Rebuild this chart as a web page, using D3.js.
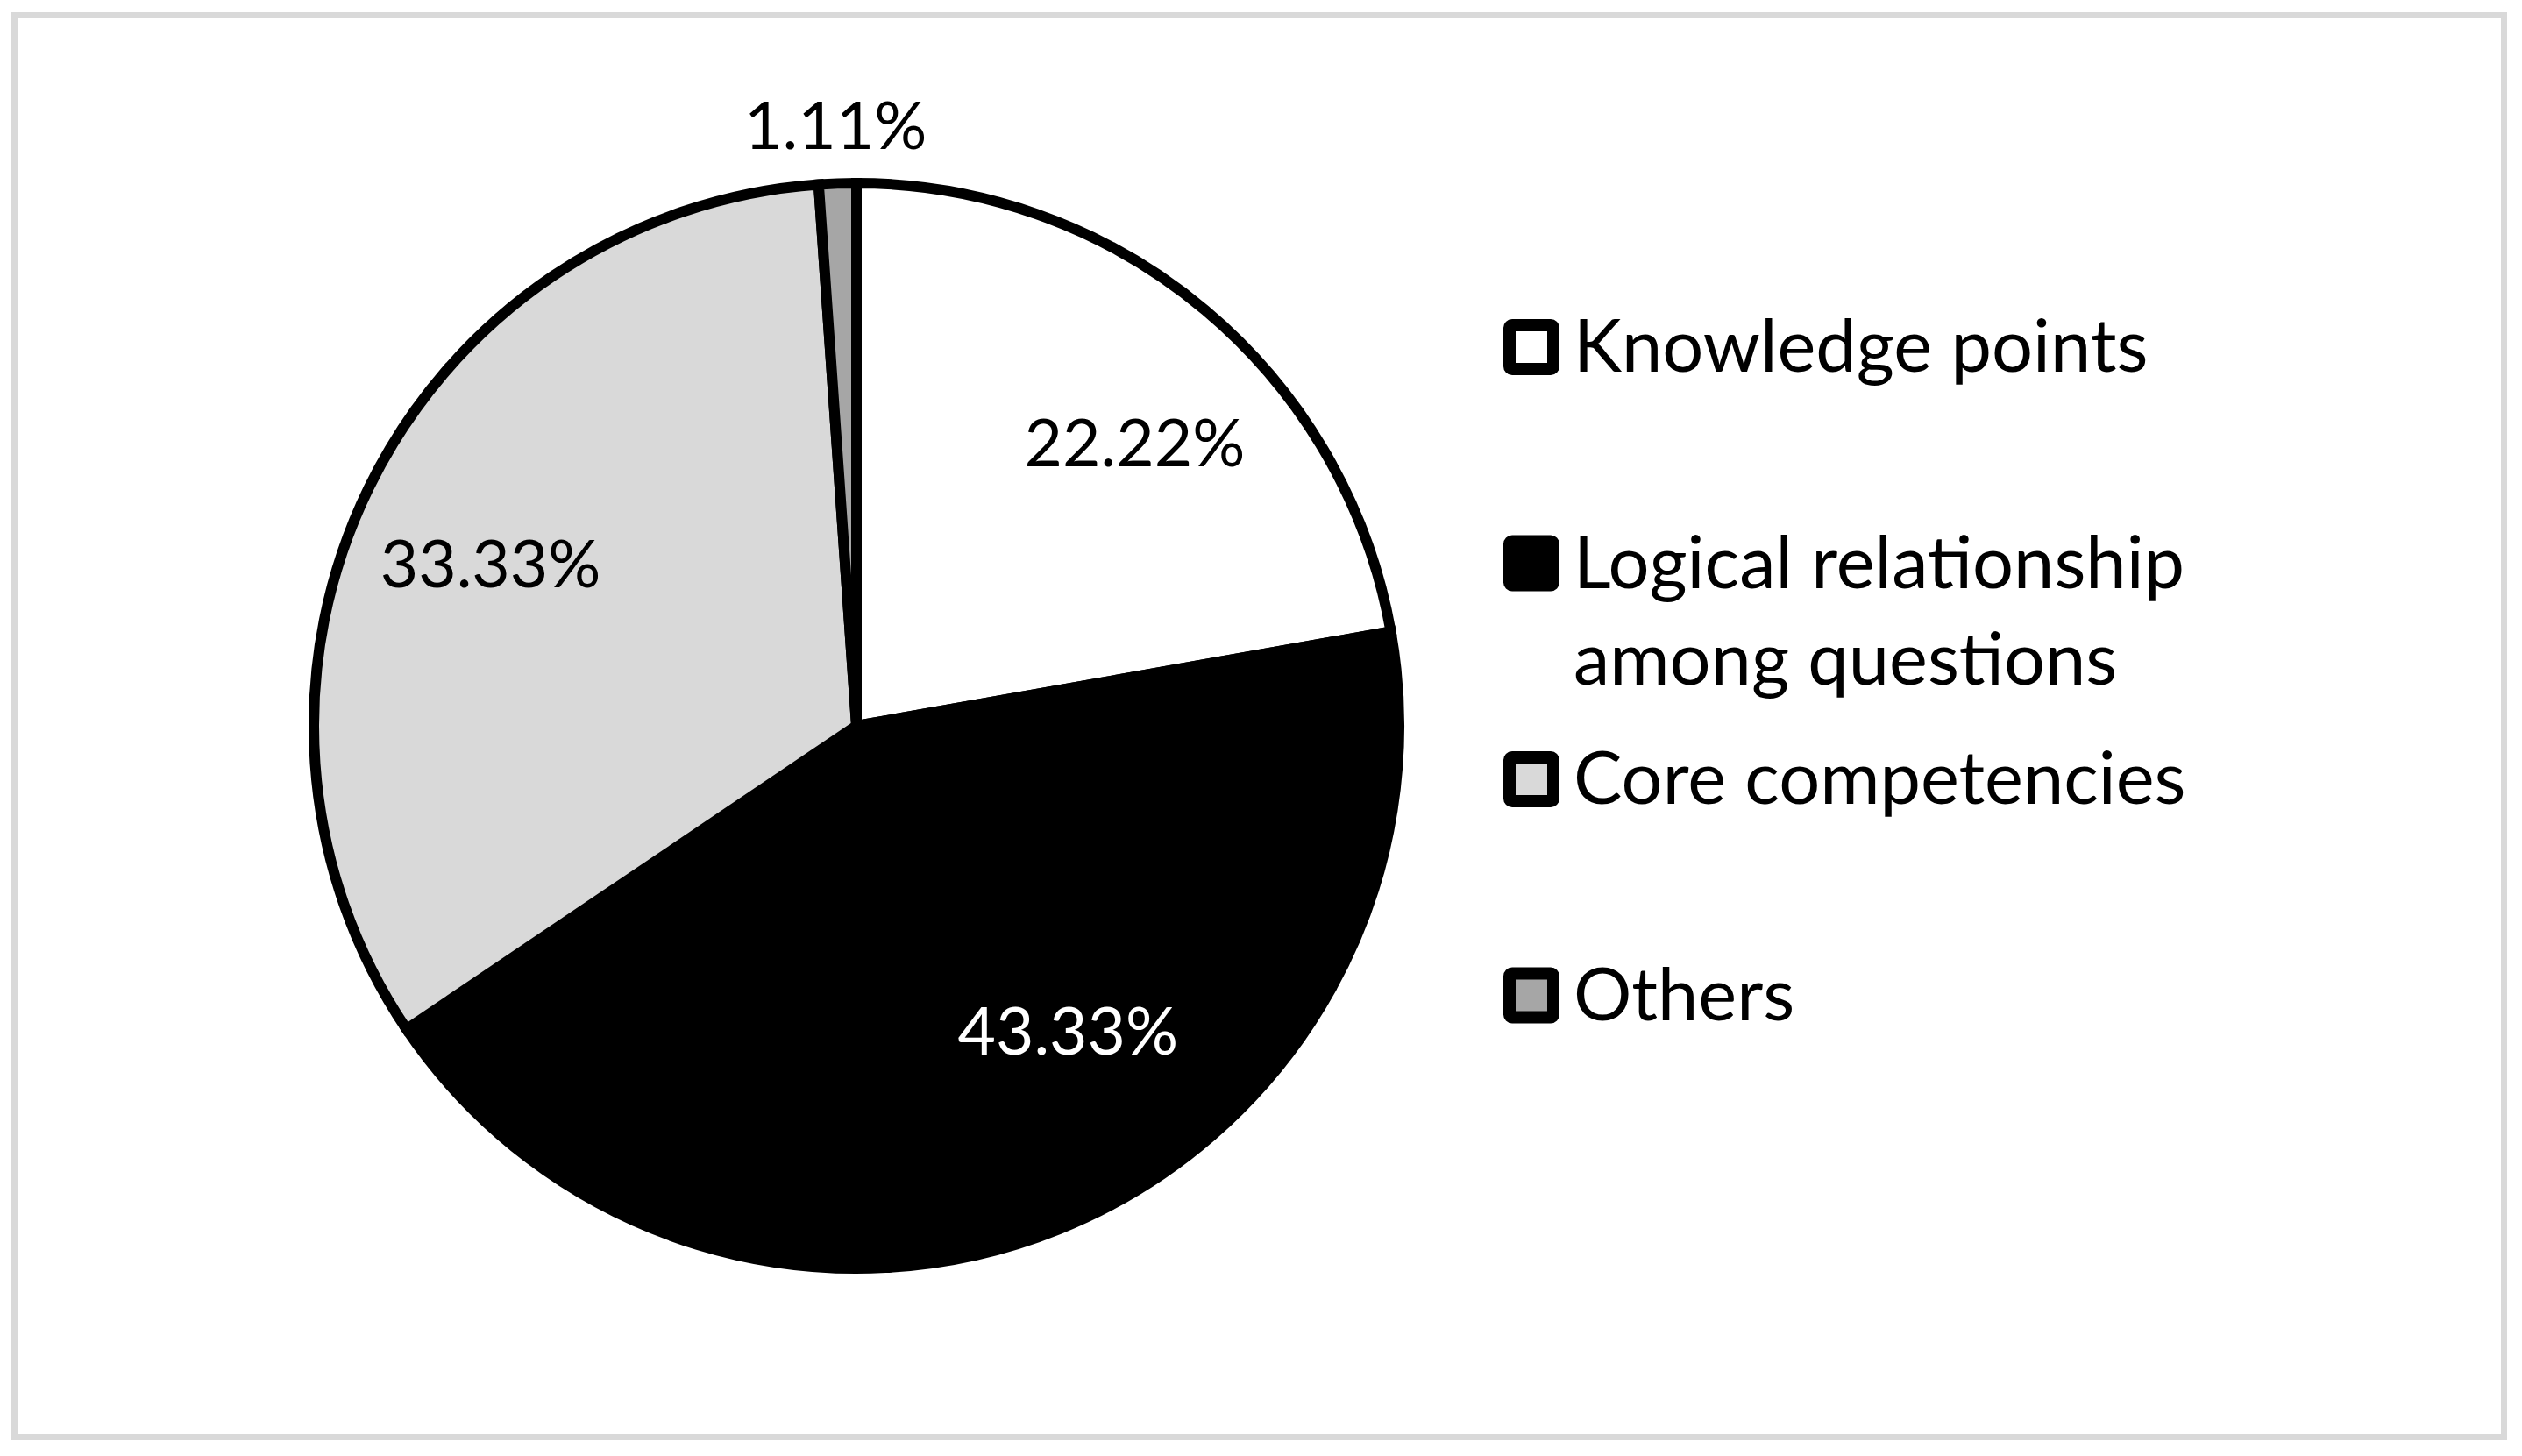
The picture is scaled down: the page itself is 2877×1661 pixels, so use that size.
<!DOCTYPE html>
<html>
<head>
<meta charset="utf-8">
<script src="https://cdn.jsdelivr.net/npm/d3@7"></script>
<style>
  body { margin: 0; background: #fff; }
  text { font-family: Lato, "Open Sans", sans-serif; }
</style>
</head>
<body>
<div id="chart"></div>
<script>
// chart values (percent of answers)
let categories = ["Knowledge points", "Logical relationship among questions", "Core competencies", "Others"];
let legend_lines = [["Knowledge points"], ["Logical relationship", "among questions"], ["Core competencies"], ["Others"]];
let shares = [22.22, 43.33, 33.33, 1.11];
let fills = ["#ffffff", "#000000", "#d9d9d9", "#a6a6a6"];
let label_colors = ["#000", "#fff", "#000", "#000"];

let width = 2877, height = 1661;
let cx = 977, cy = 828, radius = 619;
let label_size = 75, legend_size = 83;

let svg = d3.select("#chart")
    .append("svg")
    .attr("width", width)
    .attr("height", height);

// light grey frame round the chart area
svg.append("rect")
    .attr("x", 16.5)
    .attr("y", 17.5)
    .attr("width", 2840)
    .attr("height", 1622)
    .attr("fill", "#fff")
    .attr("stroke", "#d9d9d9")
    .attr("stroke-width", 7);

let pie = d3.pie().sort(null).value(d => d);
let arcs = pie(shares);

let arc = d3.arc().innerRadius(0).outerRadius(radius);
// labels sit inside the big slices, the tiny one goes outside
let inner_label = d3.arc().innerRadius(radius * 0.7).outerRadius(radius * 0.7);
let outer_label = d3.arc().innerRadius(685).outerRadius(685);
// excel "best fit" pushes the labels a bit off the centroid
let nudge = [[39, 9], [79, -54], [-28, 5], [0, 0]];

let pie_g = svg.append("g")
    .attr("transform", `translate(${cx}, ${cy})`);

pie_g.selectAll("path")
    .data(arcs)
    .enter()
    .append("path")
    .attr("d", arc)
    .attr("fill", (d, i) => fills[i])
    .attr("stroke", "#000")
    .attr("stroke-width", 12);

pie_g.selectAll("text")
    .data(arcs)
    .enter()
    .append("text")
    .attr("x", (d, i) => (d.value < 5 ? outer_label : inner_label).centroid(d)[0] + nudge[i][0])
    .attr("y", (d, i) => (d.value < 5 ? outer_label : inner_label).centroid(d)[1] + nudge[i][1])
    .attr("dy", "0.36em")
    .style("text-anchor", "middle")
    .style("font-size", label_size + "px")
    .attr("fill", (d, i) => label_colors[i])
    .text(d => d3.format(".2f")(d.value) + "%");

// legend
let legend_y = d3.scaleLinear().domain([0, categories.length - 1]).range([396, 1135.5]);

let legend = svg.append("g");
let rows = legend.selectAll("g")
    .data(categories)
    .enter()
    .append("g")
    .attr("transform", (d, i) => `translate(1715, ${legend_y(i)})`);

rows.append("rect")
    .attr("x", 7)
    .attr("y", -25)
    .attr("width", 50)
    .attr("height", 50)
    .attr("rx", 3)
    .attr("fill", (d, i) => fills[i])
    .attr("stroke", "#000")
    .attr("stroke-width", 14);

rows.append("text")
    .attr("x", 80)
    .attr("y", 28)
    .style("font-size", legend_size + "px")
    .attr("fill", "#000")
    .selectAll("tspan")
    .data((d, i) => legend_lines[i])
    .enter()
    .append("tspan")
    .attr("x", 80)
    .attr("dy", (d, j) => j == 0 ? 0 : 110)
    .text(d => d);
</script>
</body>
</html>
